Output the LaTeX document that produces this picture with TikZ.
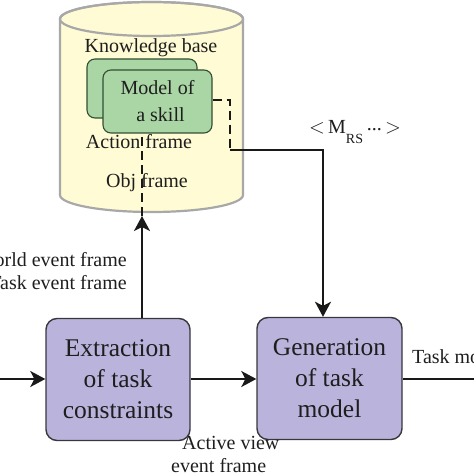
\documentclass[tikz,border=0pt]{standalone}
\usepackage{fontspec}
\setmainfont{Liberation Serif}
\usetikzlibrary{arrows.meta,calc}
\definecolor{cylfill}{RGB}{255,251,212}
\definecolor{cyledge}{RGB}{168,168,168}
\definecolor{skillfill}{RGB}{170,213,165}
\definecolor{skilledge}{RGB}{50,80,50}
\definecolor{procfill}{RGB}{186,180,221}
\definecolor{procedge}{RGB}{55,55,60}
\definecolor{txt}{RGB}{30,30,30}
\begin{document}
\begin{tikzpicture}[x=1pt,y=1pt,
  proc/.style={draw=procedge,line width=1.4pt,fill=procfill,rounded corners=11pt,
    minimum width=144pt,minimum height=122pt,align=center,text=txt,
    font=\fontsize{25.5}{31}\selectfont,inner sep=0pt},
  skill/.style={draw=skilledge,line width=1.1pt,fill=skillfill,rounded corners=8pt,inner sep=0pt},
  lbl/.style={text=txt,font=\fontsize{20}{23}\selectfont,inner sep=0pt},
  conn/.style={line width=1.8pt,draw=black!90},
  tip/.style={-{Stealth[length=15pt,width=16pt,inset=4pt]}},
  dashconn/.style={line width=1.8pt,draw=black!90,dash pattern=on 9pt off 5pt}]
\useasboundingbox (0,0) rectangle (474,474);
% cylinder
\draw[fill=cylfill,draw=cyledge,line width=2.2pt]
  (60,455) -- (60,279) arc[start angle=180,end angle=360,x radius=91.5,y radius=17]
  -- (243,455) arc[start angle=0,end angle=180,x radius=91.5,y radius=17] -- cycle;
\draw[draw=cyledge,line width=2.2pt] (151.5,455) ellipse[x radius=91.5,y radius=17];
\node[lbl] (kb) at (151,426) {Knowledge base};
% skill boxes
\node[skill,minimum width=110pt,minimum height=59pt] (skillback) at (142,385.5) {};
\node[skill,minimum width=109pt,minimum height=63pt,align=center,text=txt,
  font=\fontsize{20}{27}\selectfont] (skill) at (157.5,372.5) {Model of\\\hspace*{6pt}a skill};
\node[lbl] (act) at (139,332) {Action frame};
\node[lbl] (obj) at (147,291) {Obj frame};
% process boxes
\node[proc] (ext) at (118,94.5) {Extraction\\of task\\constraints};
\node[proc,minimum width=145pt] (gen) at (329.5,95.5) {Generation\\of task\\model};
% coordinates
\coordinate (inL) at (0,95);
\coordinate (outR) at (474,95);
\coordinate (upTip) at (142,258);
\coordinate (c1) at (230,374);
\coordinate (c2) at (230,324);
\coordinate (c3) at (323,324);
% connectors
\draw[conn,tip] (inL) -- (ext.west |- inL);
\draw[conn,tip] (ext.east |- inL) -- (gen.west |- inL);
\draw[conn] (gen.east |- outR) -- (outR);
\draw[conn,tip] (ext.north -| upTip) -- (upTip);
\draw[dashconn] (upTip) -- (skill.south -| upTip);
\draw[dashconn] (skill.east |- c1) -- (c1) -- (c2);
\draw[conn,tip] (c2) -- (c3) -- (gen.north -| c3);
% labels
\node[lbl,anchor=east,align=right] (wt) at (127,202.5) {World event frame\\Task event frame};
\node[lbl,anchor=west] (tm) at (412,117) {Task model};
\node[lbl,anchor=west,align=left] (av) at (171,20) {\hspace*{11pt}Active view\\event frame};
\node[lbl] (mrs) at (355,342) {$<$\,M\textsubscript{\raisebox{-1.2ex}{RS}}\,\raisebox{0.3ex}{...}\,$>$};
\end{tikzpicture}
\end{document}
